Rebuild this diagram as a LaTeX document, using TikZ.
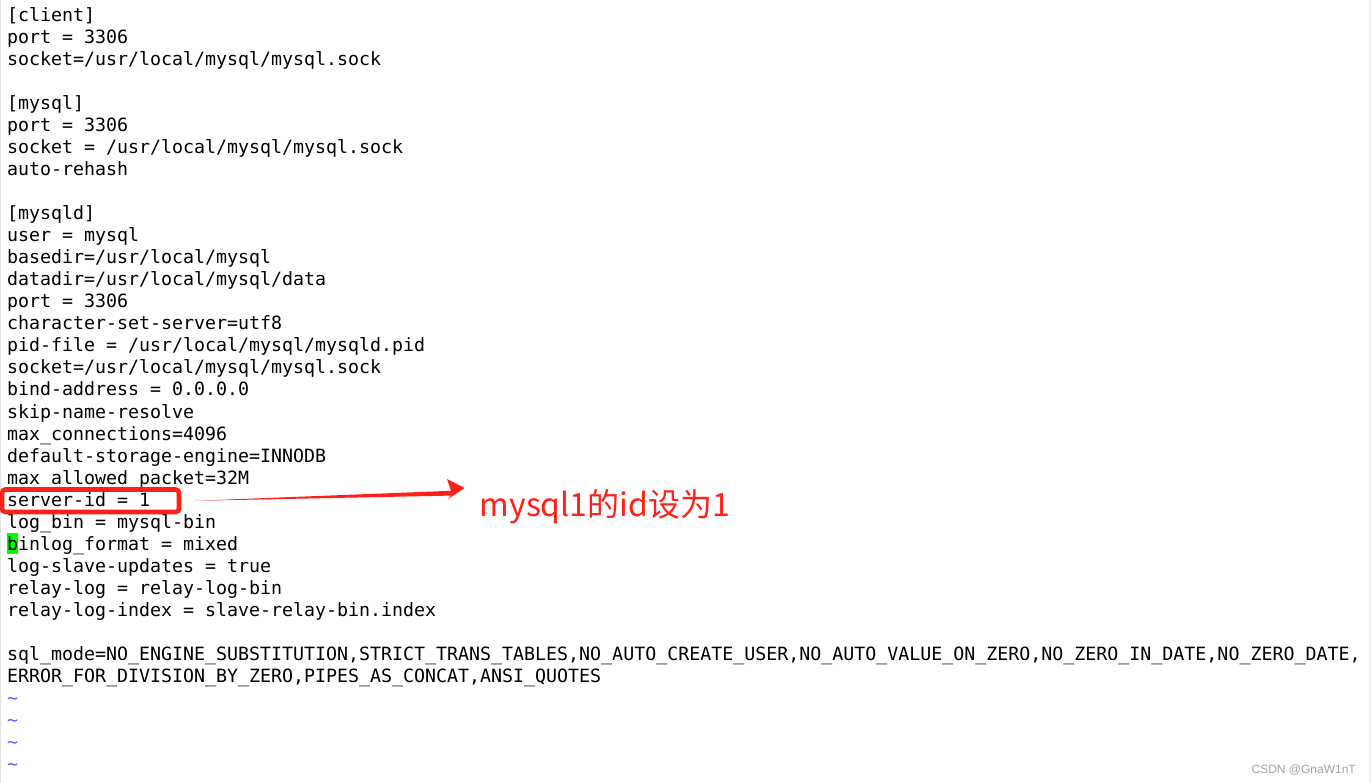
\documentclass[tikz,border=0pt]{standalone}
\usepackage{fontspec}
\setmonofont{DejaVu Sans Mono}
\newfontfamily\cjkf{Noto Sans CJK SC}
\newfontfamily\wmf{Liberation Sans}
\definecolor{annot}{HTML}{FF2018}
\definecolor{tild}{HTML}{5A5AFF}
\definecolor{wm}{HTML}{A3A3A3}
\definecolor{edge}{HTML}{E4E4E4}
\definecolor{cursorgreen}{HTML}{00FF00}
\tikzset{
  code/.style={anchor=base west,inner sep=0pt,outer sep=0pt,font=\fontsize{18.28}{22}\selectfont\ttfamily,text=black},
  tilde/.style={code,text=tild},
  annotbox/.style={draw=annot,line width=4.6pt,rounded corners=3.5pt},
  annotlabel/.style={anchor=base west,inner sep=0pt,text=annot,font=\fontsize{32}{36}\selectfont\cjkf},
  mark box/.style={fill=cursorgreen,draw=none},
  watermark/.style={anchor=base east,inner sep=0pt,text=wm,font=\fontsize{12}{14}\selectfont\wmf}
}
\begin{document}
\begin{tikzpicture}[x=1pt,y=-1pt]
\useasboundingbox (0,0) rectangle (1371,783);
\fill[white] (0,0) rectangle (1371,783);
\fill[edge] (0,0) rectangle (1.3,783);
\fill[edge] (1369.8,0) rectangle (1371,783);
\fill[mark box] (7,533) rectangle (18,554);
\node[code] (l0) at (7,22) {[client]};
\node[code] (l1) at (7,44) {port = 3306};
\node[code] (l2) at (7,66) {socket=/usr/local/mysql/mysql.sock};
\node[code] (l4) at (7,110) {[mysql]};
\node[code] (l5) at (7,132) {port = 3306};
\node[code] (l6) at (7,154) {socket = /usr/local/mysql/mysql.sock};
\node[code] (l7) at (7,176) {auto-rehash};
\node[code] (l9) at (7,220) {[mysqld]};
\node[code] (l10) at (7,242) {user = mysql};
\node[code] (l11) at (7,264) {basedir=/usr/local/mysql};
\node[code] (l12) at (7,286) {datadir=/usr/local/mysql/data};
\node[code] (l13) at (7,308) {port = 3306};
\node[code] (l14) at (7,330) {character-set-server=utf8};
\node[code] (l15) at (7,352) {pid-file = /usr/local/mysql/mysqld.pid};
\node[code] (l16) at (7,374) {socket=/usr/local/mysql/mysql.sock};
\node[code] (l17) at (7,396) {bind-address = 0.0.0.0};
\node[code] (l18) at (7,418) {skip-name-resolve};
\node[code] (l19) at (7,440) {max\_connections=4096};
\node[code] (l20) at (7,462) {default-storage-engine=INNODB};
\node[code] (l21) at (7,484) {max\_allowed\_packet=32M};
\node[code] (l22) at (7,506) {server-id = 1};
\node[code] (l23) at (7,528) {log\_bin = mysql-bin};
\node[code] (l24) at (7,550) {binlog\_format = mixed};
\node[code] (l25) at (7,572) {log-slave-updates = true};
\node[code] (l26) at (7,594) {relay-log = relay-log-bin};
\node[code] (l27) at (7,616) {relay-log-index = slave-relay-bin.index};
\node[code] (l29) at (7,660) {sql\_mode=NO\_ENGINE\_SUBSTITUTION,STRICT\_TRANS\_TABLES,NO\_AUTO\_CREATE\_USER,NO\_AUTO\_VALUE\_ON\_ZERO,NO\_ZERO\_IN\_DATE,NO\_ZERO\_DATE,};
\node[code] (l30) at (7,682) {ERROR\_FOR\_DIVISION\_BY\_ZERO,PIPES\_AS\_CONCAT,ANSI\_QUOTES};
\node[tilde] (t1) at (7,704) {\char`\~};
\node[tilde] (t2) at (7,726) {\char`\~};
\node[tilde] (t3) at (7,748) {\char`\~};
\node[tilde] (t4) at (7,770) {\char`\~};
\draw[annotbox] (2,489.5) rectangle (179,512);
\coordinate (tail) at (195,500.8);
\coordinate (tip) at (464.5,488);
\fill[annot] (tail) -- (451,490.8) -- (447,479) -- (tip) -- (448,499) -- (451,495.6) -- cycle;
\node[annotlabel] (lab) at (479.5,516) {mysql1的id设为1};
\node[watermark] (wmk) at (1356,773) {CSDN @GnaW1nT};
\end{tikzpicture}
\end{document}
